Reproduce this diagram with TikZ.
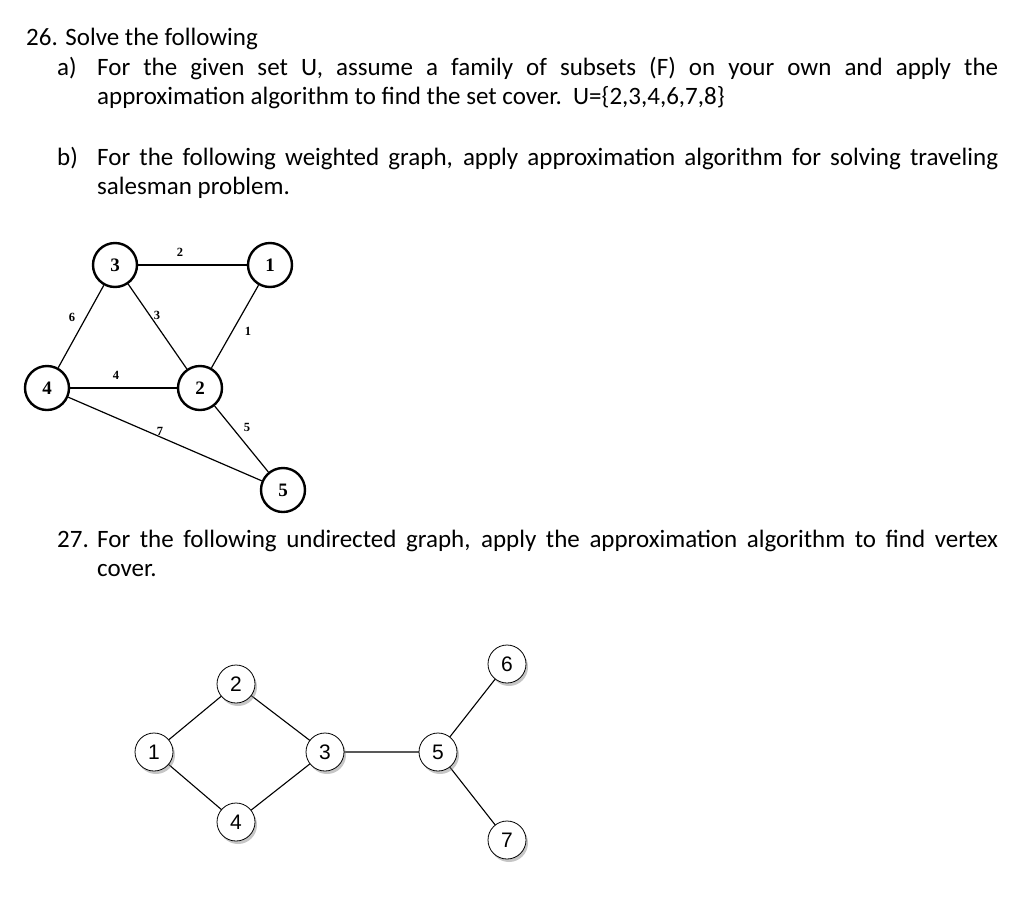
\documentclass[tikz,border=0pt]{standalone}
\usepackage{fontspec}
\setmainfont{Carlito}
\newfontfamily\gsans{Liberation Sans}
\newfontfamily\gserif{Liberation Serif}
\usetikzlibrary{shadows}
\begin{document}
\begin{tikzpicture}[x=1pt,y=-1pt,
  txt/.style={anchor=base west,inner sep=0pt,font=\fontsize{25}{29.5}\selectfont},
  para/.style={txt,text width=901pt,align=justify},
  wn/.style={circle,draw,line width=2.4pt,minimum size=44pt,inner sep=0pt,font=\gserif\bfseries\fontsize{19}{19}\selectfont},
  wl/.style={inner sep=0pt,font=\gserif\bfseries\fontsize{12.5}{12.5}\selectfont},
  we/.style={line width=1.2pt},
  un/.style={circle,draw,line width=0.8pt,fill=white,minimum size=38pt,inner sep=0pt,font=\gsans\fontsize{21}{21}\selectfont,drop shadow={shadow xshift=2pt,shadow yshift=-3pt,opacity=0.45}},
  ue/.style={line width=1.1pt}]
\useasboundingbox (0,0) rectangle (1024,897);
\node[txt] (t26) at (26,45) {26. Solve the following};
\node[txt] (ta) at (57,75) {a)};
\node[para] (pa) at (97,75) {For the given set U, assume a family of subsets (F) on your own and apply the\linebreak approximation algorithm to find the set cover.\ \ U=\{2,3,4,6,7,8\}};
\node[txt] (tb) at (57,165) {b)};
\node[para] (pb) at (97,165) {For the following weighted graph, apply approximation algorithm for solving traveling\linebreak salesman problem.};
\node[txt] (t27) at (57,547) {27.};
\node[para] (p27) at (97,547) {For the following undirected graph, apply the approximation algorithm to find vertex\linebreak cover.};
% weighted graph
\node[wn] (a3) at (115,265) {3};
\node[wn] (a1) at (270,265) {1};
\node[wn] (a4) at (47,388) {4};
\node[wn] (a2) at (200,388) {2};
\node[wn] (a5) at (283,490) {5};
\draw[we] (a3)--(a1); \draw[we] (a3)--(a4); \draw[we] (a3)--(a2);
\draw[we] (a1)--(a2); \draw[we] (a4)--(a2); \draw[we] (a4)--(a5); \draw[we] (a2)--(a5);
\node[wl] (l2) at (180,252) {2};
\node[wl] (l6) at (72,317) {6};
\node[wl] (l3) at (157,315) {3};
\node[wl] (l1) at (248,331) {1};
\node[wl] (l4) at (116,375) {4};
\node[wl] (l7) at (160,431) {7};
\node[wl] (l5) at (247,427) {5};
% undirected graph
\draw[ue] (154,752)--(236,684) (236,684)--(325,752) (154,752)--(236,822) (236,822)--(325,752) (325,752)--(438,752) (438,752)--(507,664) (438,752)--(507,840);
\node[un] (b1) at (154,752) {1};
\node[un] (b2) at (236,684) {2};
\node[un] (b3) at (325,752) {3};
\node[un] (b4) at (236,822) {4};
\node[un] (b5) at (438,752) {5};
\node[un] (b6) at (507,664) {6};
\node[un] (b7) at (507,840) {7};
\end{tikzpicture}
\end{document}
